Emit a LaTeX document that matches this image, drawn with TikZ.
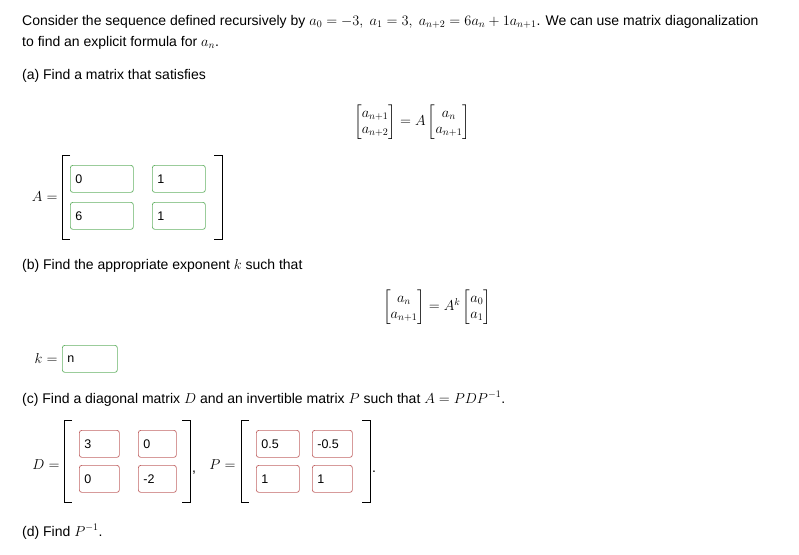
\documentclass[tikz,border=0pt]{standalone}
\usepackage{amsmath}
\usepackage{fontspec}
\setmainfont{Liberation Sans}
\begin{document}
\begin{tikzpicture}[x=1pt,y=-1pt,
  txt/.style={anchor=base west,inner sep=0,font=\fontsize{14}{16}\selectfont},
  gbox/.style={draw=green!50!black!60,fill=white,rounded corners=2.5pt,line width=0.7pt,minimum height=27,text width=#1,anchor=north west,font=\fontsize{12.5}{15}\selectfont,inner sep=5pt,align=left},
  rbox/.style={draw=red!60!black!60,fill=white,rounded corners=2.5pt,line width=0.7pt,minimum height=27,text width=#1,anchor=north west,font=\fontsize{12.5}{15}\selectfont,inner sep=5pt,align=left},
  brk/.style={line width=0.8pt}]
\useasboundingbox (0,0) rectangle (799,554);
\node[txt] (l1) at (22,25) {Consider the sequence defined recursively by $a_0=-3,\ a_1=3,\ a_{n+2}=6a_n+1a_{n+1}$. We can use matrix diagonalization};
\node[txt] (l2) at (22,46) {to find an explicit formula for $a_n$.};
\node[txt] (pa) at (22,79) {(a) Find a matrix that satisfies};
\node[anchor=center,font=\fontsize{14}{16}\selectfont] (eq1) at (412,122) {$\left[\begin{matrix}a_{n+1}\\ a_{n+2}\end{matrix}\right]=A\left[\begin{matrix}a_{n}\\ a_{n+1}\end{matrix}\right]$};
% A matrix
\node[anchor=east,font=\fontsize{14}{16}\selectfont] (Al) at (61,197) {$A=$};
\draw[brk] (70,155) -- (62,155) -- (62,239) -- (70,239);
\draw[brk] (214,155) -- (222,155) -- (222,239) -- (214,239);
\node[gbox=53] (a11) at (70,165) {0};
\node[gbox=43] (a12) at (152,165) {1};
\node[gbox=53] (a21) at (70,202) {6};
\node[gbox=43] (a22) at (152,202) {1};
\node[txt] (pb) at (22,269) {(b) Find the appropriate exponent $k$ such that};
\node[anchor=center,font=\fontsize{14}{16}\selectfont] (eq2) at (437,307) {$\left[\begin{matrix}a_{n}\\ a_{n+1}\end{matrix}\right]=A^k\left[\begin{matrix}a_{0}\\ a_{1}\end{matrix}\right]$};
\node[anchor=east,font=\fontsize{14}{16}\selectfont] (kl) at (61,358) {$k=$};
\node[gbox=45] (kb) at (62,345) {n};
\node[txt] (pc) at (22,403) {(c) Find a diagonal matrix $D$ and an invertible matrix $P$ such that $A=PDP^{-1}$.};
% D
\node[anchor=east,font=\fontsize{14}{16}\selectfont] (Dl) at (63,465) {$D=$};
\draw[brk] (72,420) -- (64,420) -- (64,502) -- (72,502);
\draw[brk] (182,420) -- (190,420) -- (190,502) -- (182,502);
\node[rbox=30] (d11) at (79,430) {3};
\node[rbox=28] (d12) at (138,430) {0};
\node[rbox=30] (d21) at (79,465) {0};
\node[rbox=28] (d22) at (138,465) {-2};
\node[anchor=base west,inner sep=0,font=\fontsize{14}{16}\selectfont] (cm) at (192,472) {,};
\node[anchor=east,font=\fontsize{14}{16}\selectfont] (Pl) at (239,465) {$P=$};
\draw[brk] (249,420) -- (241,420) -- (241,502) -- (249,502);
\draw[brk] (362,420) -- (370,420) -- (370,502) -- (362,502);
\node[rbox=33] (p11) at (256,430) {0.5};
\node[rbox=30] (p12) at (312,430) {-0.5};
\node[rbox=33] (p21) at (256,465) {1};
\node[rbox=30] (p22) at (312,465) {1};
\node[anchor=base west,inner sep=0,font=\fontsize{14}{16}\selectfont] (dot) at (372,472) {.};
\node[txt] (pd) at (22,536) {(d) Find $P^{-1}$.};
\end{tikzpicture}
\end{document}
